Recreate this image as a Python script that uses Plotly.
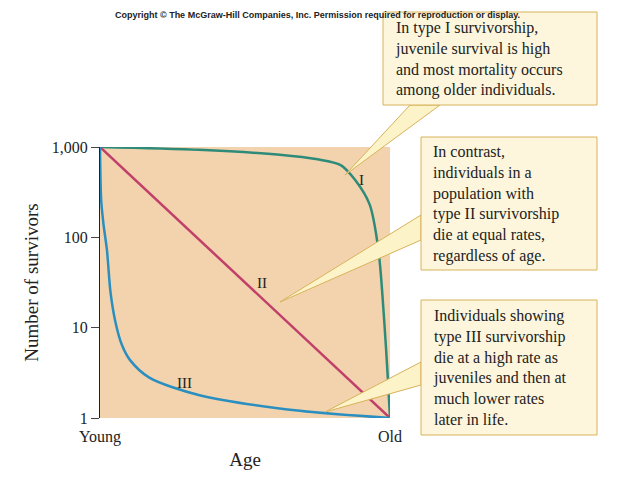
import plotly.graph_objects as go

# age scale: 0 = Young, 100 = Old
type1_age = [0, 34, 62, 75, 83, 88, 93, 96, 98, 99.3, 100]
type1_surv = [1000, 930, 820, 730, 630, 430, 230, 73, 12, 2.6, 1]
type2_age = [0, 100]
type2_surv = [1000, 1]
type3_age = [0, 0.4, 1.2, 2.4, 3.6, 5.2, 7.5, 10.3, 17, 34, 69, 100]
type3_surv = [1000, 260, 140, 72, 25, 12, 6.5, 4.4, 2.8, 1.8, 1.2, 1]

OFF = 8  # page body margin
W, H = 638 - 2 * OFF, 478 - 2 * OFF
L, R, T, B = 100 - OFF, 390 - OFF, 147 - OFF, 418 - OFF
serif = "Liberation Serif"


def px(x):
    return (x - OFF - L) / (R - L)


def py(y):
    return (B - (y - OFF)) / (B - T)


fig = go.Figure()
fig.add_trace(go.Scatter(x=type1_age, y=type1_surv, mode="lines", line=dict(color="#2e8b7a", width=2.5, shape="spline", smoothing=0.8)))
fig.add_trace(go.Scatter(x=type2_age, y=type2_surv, mode="lines", line=dict(color="#c0406a", width=2.5)))
fig.add_trace(go.Scatter(x=type3_age, y=type3_surv, mode="lines", line=dict(color="#2a8fc0", width=2.5, shape="spline", smoothing=0.8)))

boxes = [
    (383, 597, 12, 105, "In type I survivorship,<br>juvenile survival is high<br>and most mortality occurs<br>among older individuals.",
     [(410, 105), (440, 105), (345, 175)]),
    (421, 597, 137, 270, "In contrast,<br>individuals in a<br>population with<br>type II survivorship<br>die at equal rates,<br>regardless of age.",
     [(421, 215), (421, 240), (280, 302)]),
    (421, 597, 300, 435, "Individuals showing<br>type III survivorship<br>die at a high rate as<br>juveniles and then at<br>much lower rates<br>later in life.",
     [(421, 362), (421, 385), (325, 412)]),
]
shapes = []
annotations = []
for x0, x1, y0, y1, text, wedge in boxes:
    path = "M {} {} L {} {} L {} {} Z".format(*[v for p in wedge for v in (px(p[0]), py(p[1]))])
    shapes.append(dict(type="path", xref="paper", yref="paper", path=path,
                       fillcolor="#fdf3c8", line=dict(color="#d8b25a", width=1)))
    shapes.append(dict(type="rect", xref="paper", yref="paper", x0=px(x0), x1=px(x1), y0=py(y1), y1=py(y0),
                       fillcolor="#fdf6dc", line=dict(color="#d8b25a", width=1)))
    annotations.append(dict(xref="paper", yref="paper", x=px(x0 + 10), y=py((y0 + y1) / 2), xanchor="left",
                            yanchor="middle", align="left", showarrow=False, text=text,
                            font=dict(family=serif, size=16, color="#222")))

for lab, x, y in [("I", 90, 2.64), ("II", 56, 1.49), ("III", 29, 0.39)]:
    annotations.append(dict(x=x, y=y, text=lab, showarrow=False, font=dict(family=serif, size=15, color="#222")))

annotations.append(dict(xref="paper", yref="paper", x=px(113), y=py(8), xanchor="left", showarrow=False,
                        text="<b>Copyright © The McGraw-Hill Companies, Inc. Permission required for reproduction or display.</b>",
                        font=dict(family="Liberation Sans", size=9, color="#222")))

fig.update_layout(
    width=W, height=H, margin=dict(l=L, r=W - R, t=T, b=H - B, autoexpand=False),
    paper_bgcolor="white", plot_bgcolor="#f3d3ad", showlegend=False,
    shapes=shapes, annotations=annotations,
    font=dict(family=serif, size=16, color="#222"),
    xaxis=dict(range=[0, 100], tickvals=[0, 100], ticktext=["Young", "Old"], showgrid=False, zeroline=False,
               ticks="outside", ticklen=4, tickcolor="rgba(0,0,0,0)",
               title=dict(text="Age", standoff=12), fixedrange=True),
    yaxis=dict(type="log", range=[0, 3], tickvals=[1, 10, 100, 1000], ticktext=["1", "10", "100", "1,000"],
               showgrid=False, ticks="outside", ticklen=8, showline=True, linecolor="#222",
               title=dict(text="Number of survivors", standoff=8), fixedrange=True),
)
fig.write_html("out.html")
